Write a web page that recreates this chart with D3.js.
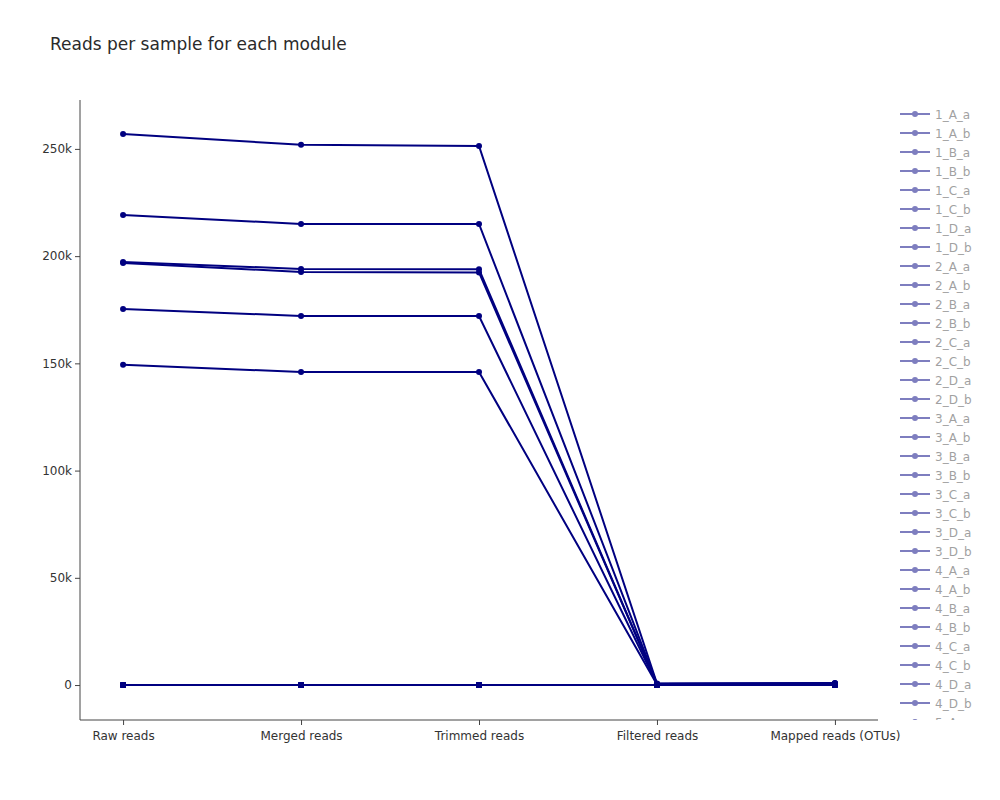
<!DOCTYPE html>
<html><head><meta charset="utf-8">
<script src="https://cdn.jsdelivr.net/npm/d3@7"></script>
<style>body{margin:0;background:#fff;} text{font-family:"DejaVu Sans",Verdana,sans-serif;}</style>
</head><body><svg id="c" width="1000" height="800"></svg>
<script>
const modules = ["Raw reads","Merged reads","Trimmed reads","Filtered reads","Mapped reads (OTUs)"];
const samples = [];
["1","2","3","4","5"].forEach(g=>["A","B","C","D"].forEach(l=>["a","b"].forEach(r=>samples.push(g+"_"+l+"_"+r))));
// values per module for each sample (same order as samples)
const rawReads      = [0,0,0,0,0,0,0,0, 0,0,0,0,0,0,0,0, 0,0,0,0,0,0,0,0, 0,0,0,0,0,0,0,0, 256900,219200,197300,196800,175400,149300,0,0];
const mergedReads   = [0,0,0,0,0,0,0,0, 0,0,0,0,0,0,0,0, 0,0,0,0,0,0,0,0, 0,0,0,0,0,0,0,0, 251900,215000,194000,192600,172100,146000,0,0];
const trimmedReads  = [0,0,0,0,0,0,0,0, 0,0,0,0,0,0,0,0, 0,0,0,0,0,0,0,0, 0,0,0,0,0,0,0,0, 251400,215000,193900,192400,172100,146000,0,0];
const filteredReads = [0,0,0,0,0,0,0,0, 0,0,0,0,0,0,0,0, 0,0,0,0,0,0,0,0, 0,0,0,0,0,0,0,0, 700,600,500,500,400,300,0,0];
const mappedReads   = [0,0,0,0,0,0,0,0, 0,0,0,0,0,0,0,0, 0,0,0,0,0,0,0,0, 0,0,0,0,0,0,0,0, 900,800,700,600,500,400,0,0];
const yTicks = [0,50000,100000,150000,200000,250000];

const moduleValues = [rawReads, mergedReads, trimmedReads, filteredReads, mappedReads];
const series = samples.map((s,i)=>({name:s, values: modules.map((m,j)=>({m, v: moduleValues[j][i]}))}));

const svg = d3.select("#c");
const L=80, R=878, T=100, B=720;
const x = d3.scalePoint().domain(modules).range([L,R]).padding(0.242);
const y = d3.scaleLinear().domain([-16300,272800]).range([B,T]);
const color = "#000080";

svg.append("text").attr("x",50).attr("y",50).attr("font-size",17).attr("fill","#2a2a2a").text("Reads per sample for each module");

// axes
const ya = svg.append("g").attr("transform",`translate(${L},0)`)
  .call(d3.axisLeft(y).tickValues(yTicks).tickSize(5).tickPadding(3).tickFormat(d3.format("~s")));
ya.select(".domain").attr("d",`M0,${T}V${B}`).attr("stroke","#444");
const xa = svg.append("g").attr("transform",`translate(0,${B})`)
  .call(d3.axisBottom(x).tickSize(5).tickPadding(6));
xa.select(".domain").attr("d",`M${L},0H${R}`).attr("stroke","#444");
svg.selectAll(".tick line").attr("stroke","#444");
svg.selectAll(".tick text").attr("font-size",12).attr("fill","#333").attr("font-family","DejaVu Sans, Verdana, sans-serif");

// lines
const line = d3.line().x(d=>x(d.m)).y(d=>y(d.v));
const plot = svg.append("g");
series.forEach(s=>{
  plot.append("path").attr("d",line(s.values)).attr("fill","none").attr("stroke",color).attr("stroke-width",2);
  plot.selectAll(null).data(s.values).enter().append("circle")
    .attr("cx",d=>x(d.m)).attr("cy",d=>y(d.v)).attr("r",3).attr("fill",color);
});

// legend (clipped to plot height, like a scrolling legend)
svg.append("clipPath").attr("id","lc").append("rect").attr("x",890).attr("y",100).attr("width",110).attr("height",620);
const lg = svg.append("g").attr("clip-path","url(#lc)").attr("opacity",0.5);
samples.forEach((s,i)=>{
  const yy = 114 + i*19;
  if (yy > 730) return;
  const g = lg.append("g").attr("transform",`translate(0,${yy})`);
  g.append("line").attr("x1",900).attr("x2",930).attr("y1",0).attr("y2",0).attr("stroke",color).attr("stroke-width",2);
  g.append("circle").attr("cx",915).attr("cy",0).attr("r",3).attr("fill",color);
  g.append("text").attr("x",935).attr("y",4.5).attr("font-size",12).attr("fill","#444").text(s);
});
</script></body></html>
